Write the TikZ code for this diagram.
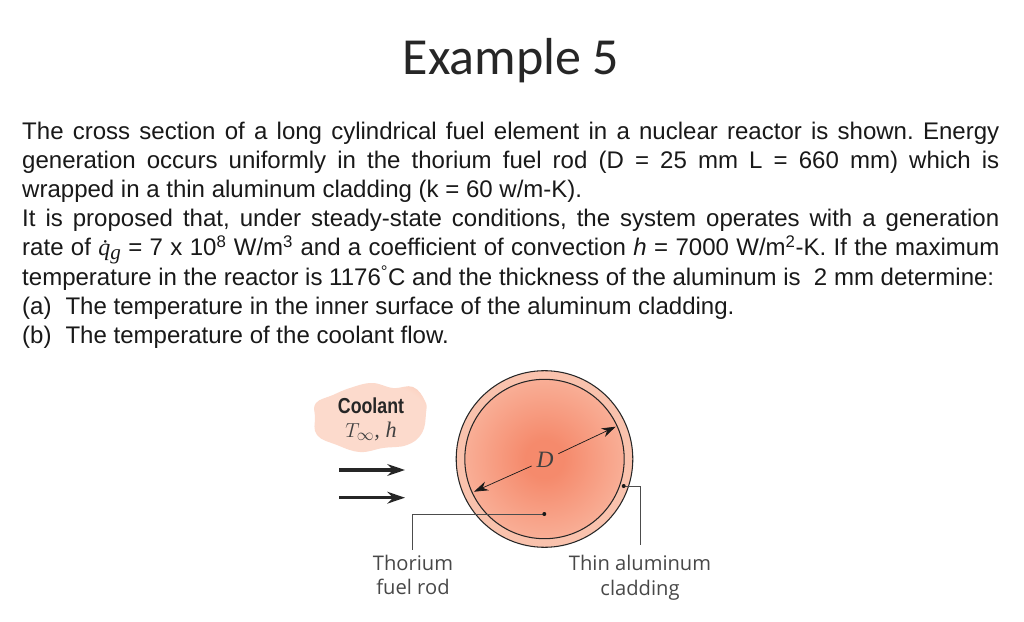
\documentclass[tikz,border=0pt]{standalone}
\usepackage{amsmath}
\usepackage{fontspec}
\setmainfont{Liberation Sans}
\newfontfamily\titlefont{Carlito}
\newfontfamily\coolantfont[FakeStretch=0.82]{Liberation Sans}
\newfontfamily\labelfont{Open Sans}
\newfontfamily\seriffont{Liberation Serif}
\usetikzlibrary{arrows.meta,positioning}
\definecolor{rodinner}{RGB}{245,138,108}
\definecolor{rodmiddle}{RGB}{249,176,152}
\definecolor{rodouter}{RGB}{251,206,188}
\definecolor{ringfill}{RGB}{249,194,173}
\definecolor{cloudinner}{RGB}{252,218,204}
\definecolor{cloudouter}{RGB}{248,178,152}
\definecolor{labelgray}{RGB}{72,72,72}
\pgfdeclareradialshading{rodshade}{\pgfpointorigin}{color(0bp)=(rodinner); color(6bp)=(rodinner); color(26bp)=(rodmiddle); color(50bp)=(rodouter); color(100bp)=(rodouter)}
\pgfdeclareradialshading{cloudshade}{\pgfpointorigin}{color(0bp)=(cloudinner); color(25bp)=(cloudinner); color(50bp)=(cloudouter); color(100bp)=(cloudouter)}
\newcommand{\fullline}[1]{\hbox to 29.31cm{#1}}
\newcommand{\bodysize}{\fontsize{20.5}{24}\selectfont}
\frenchspacing
\begin{document}
\begin{tikzpicture}[x=0.03cm,y=0.03cm]
            \tikzstyle{every node}+=[inner sep=0pt]
            \tikzstyle{textline}=[anchor=base west,font=\bodysize,text=black!90]
            \tikzstyle{partlabel}=[anchor=base,font=\labelfont\fontsize{17.2}{21}\selectfont,text=labelgray]
            \tikzstyle{leader}=[draw=black!70,line width=0.6pt]
            \tikzstyle{flowarrow}=[line width=2.8pt,black!85,-{Stealth[length=15pt,width=10pt]}]
            \tikzstyle{dimarrow}=[line width=0.6pt,black!90,-{Stealth[length=12pt,width=8pt]}]
            \useasboundingbox (0,0) rectangle (1024,-622);
            \fill [white] (0,0) rectangle (1024,-622);
            \node (title) [anchor=base,font=\titlefont\fontsize{44.4}{50}\selectfont,text=black!85] at (511,-75) {Example 5};
            \node (lineA) [textline] at (22,-140) {\fullline{The cross section of a long cylindrical fuel element in a nuclear reactor is shown. Energy}};
            \node (lineB) [textline] at (22,-169) {\fullline{generation occurs uniformly in the thorium fuel rod (D = 25 mm L = 660 mm) which is}};
            \node (lineC) [textline] at (22,-198) {wrapped in a thin aluminum cladding (k = 60 w/m-K).};
            \node (lineD) [textline] at (22,-227) {\fullline{It is proposed that, under steady-state conditions, the system operates with a generation}};
            \node (lineE) [textline] at (22,-256) {\fullline{rate of {\seriffont\itshape\.q\raisebox{-0.3ex}{\fontsize{18}{22}\selectfont g}} = 7 x 10\textsuperscript{8} W/m\textsuperscript{3} and a coefficient of convection \textit{h} = 7000 W/m\textsuperscript{2}-K. If the maximum}};
            \node (lineF) [textline] at (22,-286) {temperature in the reactor is 1176\textsuperscript{\textdegree}C and the thickness of the aluminum is\ \ 2 mm determine:};
            \node (lineG) [textline] at (22,-314) {(a)\hspace{0.42cm}The temperature in the inner surface of the aluminum cladding.};
            \node (lineH) [textline] at (22,-343) {(b)\hspace{0.42cm}The temperature of the coolant flow.};
            \coordinate (rodcentre) at (544.5,-459);
            \fill [ringfill] (rodcentre) circle (88.3);
            \shade [shading=rodshade] (rodcentre) circle (79.7);
            \draw [black!85,line width=0.9pt] (rodcentre) circle (88.3);
            \draw [black!85,line width=0.9pt] (rodcentre) circle (79.7);
            \shade [shading=cloudshade] plot [smooth cycle,tension=0.7] coordinates {(316,-403) (333,-395) (350,-388) (372,-383) (393,-388) (413,-387) (425,-401) (426,-413) (422,-433) (407,-445) (383,-448) (360,-452) (337,-445) (317,-435) (315,-417)};
            \node (coolant) [font=\coolantfont\bfseries\fontsize{18.5}{22}\selectfont,text=black!85,anchor=base] at (371,-413) {Coolant};
            \node (props) [font=\seriffont\itshape\fontsize{19}{22}\selectfont,text=black!75,anchor=base] at (371,-437) {$T_\infty$, h};
            \coordinate (flowAstart) at (339,-470);
            \coordinate (flowAend) at (405,-470);
            \coordinate (flowBstart) at (339,-497.7);
            \coordinate (flowBend) at (405,-497.7);
            \draw [flowarrow] (flowAstart) -- (flowAend);
            \draw [flowarrow] (flowBstart) -- (flowBend);
            \node (diam) [font=\seriffont\itshape\fontsize{20}{22}\selectfont,text=black!75,inner sep=4pt] at (545,-460) {D};
            \coordinate (diamA) at (615.7,-426.7);
            \coordinate (diamB) at (474,-491.7);
            \draw [dimarrow] (diam) -- (diamA);
            \draw [dimarrow] (diam) -- (diamB);
            \node (thorium) [partlabel] at (413,-570) {Thorium};
            \node (fuelrod) [partlabel] at (413,-594) {fuel rod};
            \node (thin) [partlabel] at (640,-570) {Thin aluminum};
            \node (cladding) [partlabel] at (640,-595) {cladding};
            \coordinate (rodpoint) at (544.3,-514);
            \coordinate (rodbend) at (412.7,-514);
            \coordinate (rodfoot) at (412.7,-550);
            \coordinate (cladpoint) at (623.7,-486);
            \coordinate (cladbend) at (640,-486);
            \coordinate (cladfoot) at (640,-545);
            \draw [leader] (rodpoint) -- (rodbend) -- (rodfoot);
            \draw [leader] (cladpoint) -- (cladbend) -- (cladfoot);
            \fill [black!90] (rodpoint) circle (2);
            \fill [black!90] (cladpoint) circle (2);
            \end{tikzpicture}
\end{document}
